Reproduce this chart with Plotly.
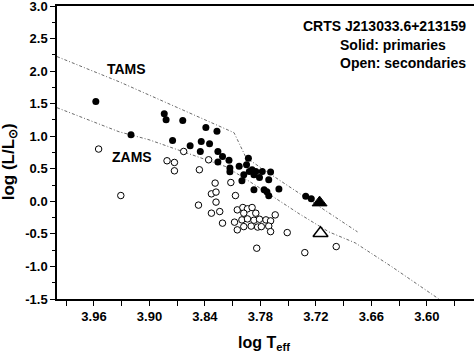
import plotly.graph_objects as go

# Primaries (solid circles): log Teff, log L/Lsun
prim_logT = [3.958, 3.920, 3.884, 3.882, 3.864, 3.839, 3.827, 3.875, 3.856, 3.844,
             3.835, 3.845, 3.826, 3.821, 3.826, 3.814, 3.813, 3.813, 3.803, 3.793,
             3.795, 3.792, 3.789, 3.785, 3.787, 3.798, 3.800, 3.778, 3.769, 3.781,
             3.771, 3.787, 3.776, 3.773, 3.771, 3.760, 3.731, 3.725]
prim_logL = [1.535, 1.023, 1.346, 1.254, 1.243, 1.135, 1.077, 0.935, 0.854, 0.920,
             0.885, 0.766, 0.766, 0.689, 0.603, 0.631, 0.511, 0.454, 0.538, 0.662,
             0.562, 0.459, 0.485, 0.459, 0.408, 0.408, 0.315, 0.459, 0.449, 0.366,
             0.331, 0.177, 0.177, 0.146, 0.085, 0.188, 0.077, 0.038]

# Secondaries (open circles)
sec_logT = [3.955, 3.931, 3.881, 3.873, 3.873, 3.863, 3.846, 3.836, 3.829, 3.812,
            3.833, 3.828, 3.807, 3.828, 3.847, 3.833, 3.824, 3.805, 3.821, 3.808,
            3.805, 3.799, 3.794, 3.789, 3.798, 3.785, 3.800, 3.794, 3.787, 3.781,
            3.774, 3.769, 3.798, 3.790, 3.783, 3.779, 3.771, 3.769, 3.764, 3.751,
            3.784, 3.732, 3.698]
sec_logL = [0.803, 0.089, 0.623, 0.597, 0.469, 0.766, 0.485, 0.638, 0.280, 0.289,
            0.115, 0.142, 0.089, -0.012, -0.058, -0.182, -0.157, -0.131, -0.335, -0.320,
            -0.438, -0.095, -0.115, -0.095, -0.182, -0.182, -0.285, -0.270, -0.290, -0.275,
            -0.285, -0.300, -0.388, -0.380, -0.395, -0.388, -0.380, -0.465, -0.208, -0.480,
            -0.720, -0.788, -0.695]

# CRTS J213033.6+213159 components (triangles)
target_prim_logT = [3.716]
target_prim_logL = [-0.020]
target_sec_logT = [3.715]
target_sec_logL = [-0.489]

# Evolutionary boundaries
tams_logT = [4.000, 3.933, 3.8085, 3.803, 3.7955, 3.760, 3.675]
tams_logL = [2.223, 1.838, 1.054, 0.900, 0.669, 0.331, -0.469]
zams_logT = [4.000, 3.958, 3.933, 3.9005, 3.817, 3.781, 3.738, 3.706, 3.6775, 3.6375, 3.587]
zams_logL = [1.438, 1.208, 1.069, 0.946, 0.531, 0.208, -0.192, -0.469, -0.638, -1.008, -1.50]

x_ticks = [3.96, 3.90, 3.84, 3.78, 3.72, 3.66, 3.60]
x_ticktext = ["3.96", "3.90", "3.84", "3.78", "3.72", "3.66", "3.60"]
y_ticks = [-1.5, -1.0, -0.5, 0.0, 0.5, 1.0, 1.5, 2.0, 2.5, 3.0]
y_ticktext = ["-1.5", "-1.0", "-0.5", "0.0", "0.5", "1.0", "1.5", "2.0", "2.5", "3.0"]

FONT = "Arial, Liberation Sans, sans-serif"
line_style = dict(color="#6a6a6a", width=1, dash="3px,2px,1px,2px")

fig = go.Figure()
fig.add_trace(go.Scatter(x=tams_logT, y=tams_logL, mode="lines", line=line_style, hoverinfo="skip"))
fig.add_trace(go.Scatter(x=zams_logT, y=zams_logL, mode="lines", line=line_style, hoverinfo="skip"))
fig.add_trace(go.Scatter(x=sec_logT, y=sec_logL, mode="markers",
                         marker=dict(symbol="circle", size=6.5, color="white",
                                     line=dict(color="black", width=1))))
fig.add_trace(go.Scatter(x=prim_logT, y=prim_logL, mode="markers",
                         marker=dict(symbol="circle", size=7, color="black",
                                     line=dict(color="black", width=0))))
fig.add_trace(go.Scatter(x=target_prim_logT, y=target_prim_logL, mode="markers",
                         marker=dict(symbol="triangle-up", size=13, color="black",
                                     line=dict(color="black", width=1))))
fig.add_trace(go.Scatter(x=target_sec_logT, y=target_sec_logL, mode="markers",
                         marker=dict(symbol="triangle-up", size=13, color="white",
                                     line=dict(color="black", width=1.5))))

txt_font = dict(family=FONT, size=14, color="black")
fig.add_annotation(x=3.9243, y=2.04, text="<b>TAMS</b>", showarrow=False, font=txt_font)
fig.add_annotation(x=3.9194, y=0.685, text="<b>ZAMS</b>", showarrow=False, font=txt_font)
fig.add_annotation(x=3.736, y=2.69, text="<b>CRTS J213033.6+213159</b>", showarrow=False,
                   xanchor="left", font=txt_font)
fig.add_annotation(x=3.696, y=2.397, text="<b>Solid: primaries</b>", showarrow=False,
                   xanchor="left", font=txt_font)
fig.add_annotation(x=3.696, y=2.126, text="<b>Open: secondaries</b>", showarrow=False,
                   xanchor="left", font=txt_font)

# Axis titles
fig.add_annotation(xref="x", yref="paper", x=3.776, y=0, yanchor="top", yshift=-33,
                   text="<b>log T<sub>eff</sub></b>", showarrow=False,
                   font=dict(family=FONT, size=16, color="black"))
fig.add_annotation(xref="paper", yref="y", x=0, y=0.6, xanchor="center", xshift=-47,
                   textangle=-90, text="<b>log (L/L<sub>⊙</sub>)</b>", showarrow=False,
                   font=dict(family=FONT, size=17, color="black"))

fig.update_layout(
    width=474, height=353,
    margin=dict(l=57, r=0, t=6, b=54),
    paper_bgcolor="white", plot_bgcolor="white",
    showlegend=False,
    font=dict(family=FONT, color="black"),
)
fig.update_xaxes(
    range=[4.0, 3.549], tickvals=x_ticks, ticktext=x_ticktext,
    ticks="outside", ticklen=5, tickwidth=1.2, tickcolor="black",
    minor=dict(tickvals=[3.99, 3.93, 3.87, 3.81, 3.75, 3.69, 3.63, 3.57],
               ticks="outside", ticklen=5, tickwidth=1.2, tickcolor="black"),
    showline=True, linecolor="black", linewidth=1.5, mirror=True,
    showgrid=False, zeroline=False, ticklabeloverflow="allow",
    tickfont=dict(family=FONT, size=13, color="black", weight="bold"),
)
fig.update_yaxes(
    range=[-1.5, 3.0], tickvals=y_ticks, ticktext=y_ticktext,
    ticks="outside", ticklen=5, tickwidth=1.2, tickcolor="black",
    minor=dict(dtick=0.25, tick0=-1.5, ticks="outside", ticklen=3, tickwidth=1, tickcolor="black"),
    showline=True, linecolor="black", linewidth=1.5, mirror=False,
    showgrid=False, zeroline=False, ticklabeloverflow="allow",
    tickfont=dict(family=FONT, size=13, color="black", weight="bold"),
)

fig.write_html("out.html")
